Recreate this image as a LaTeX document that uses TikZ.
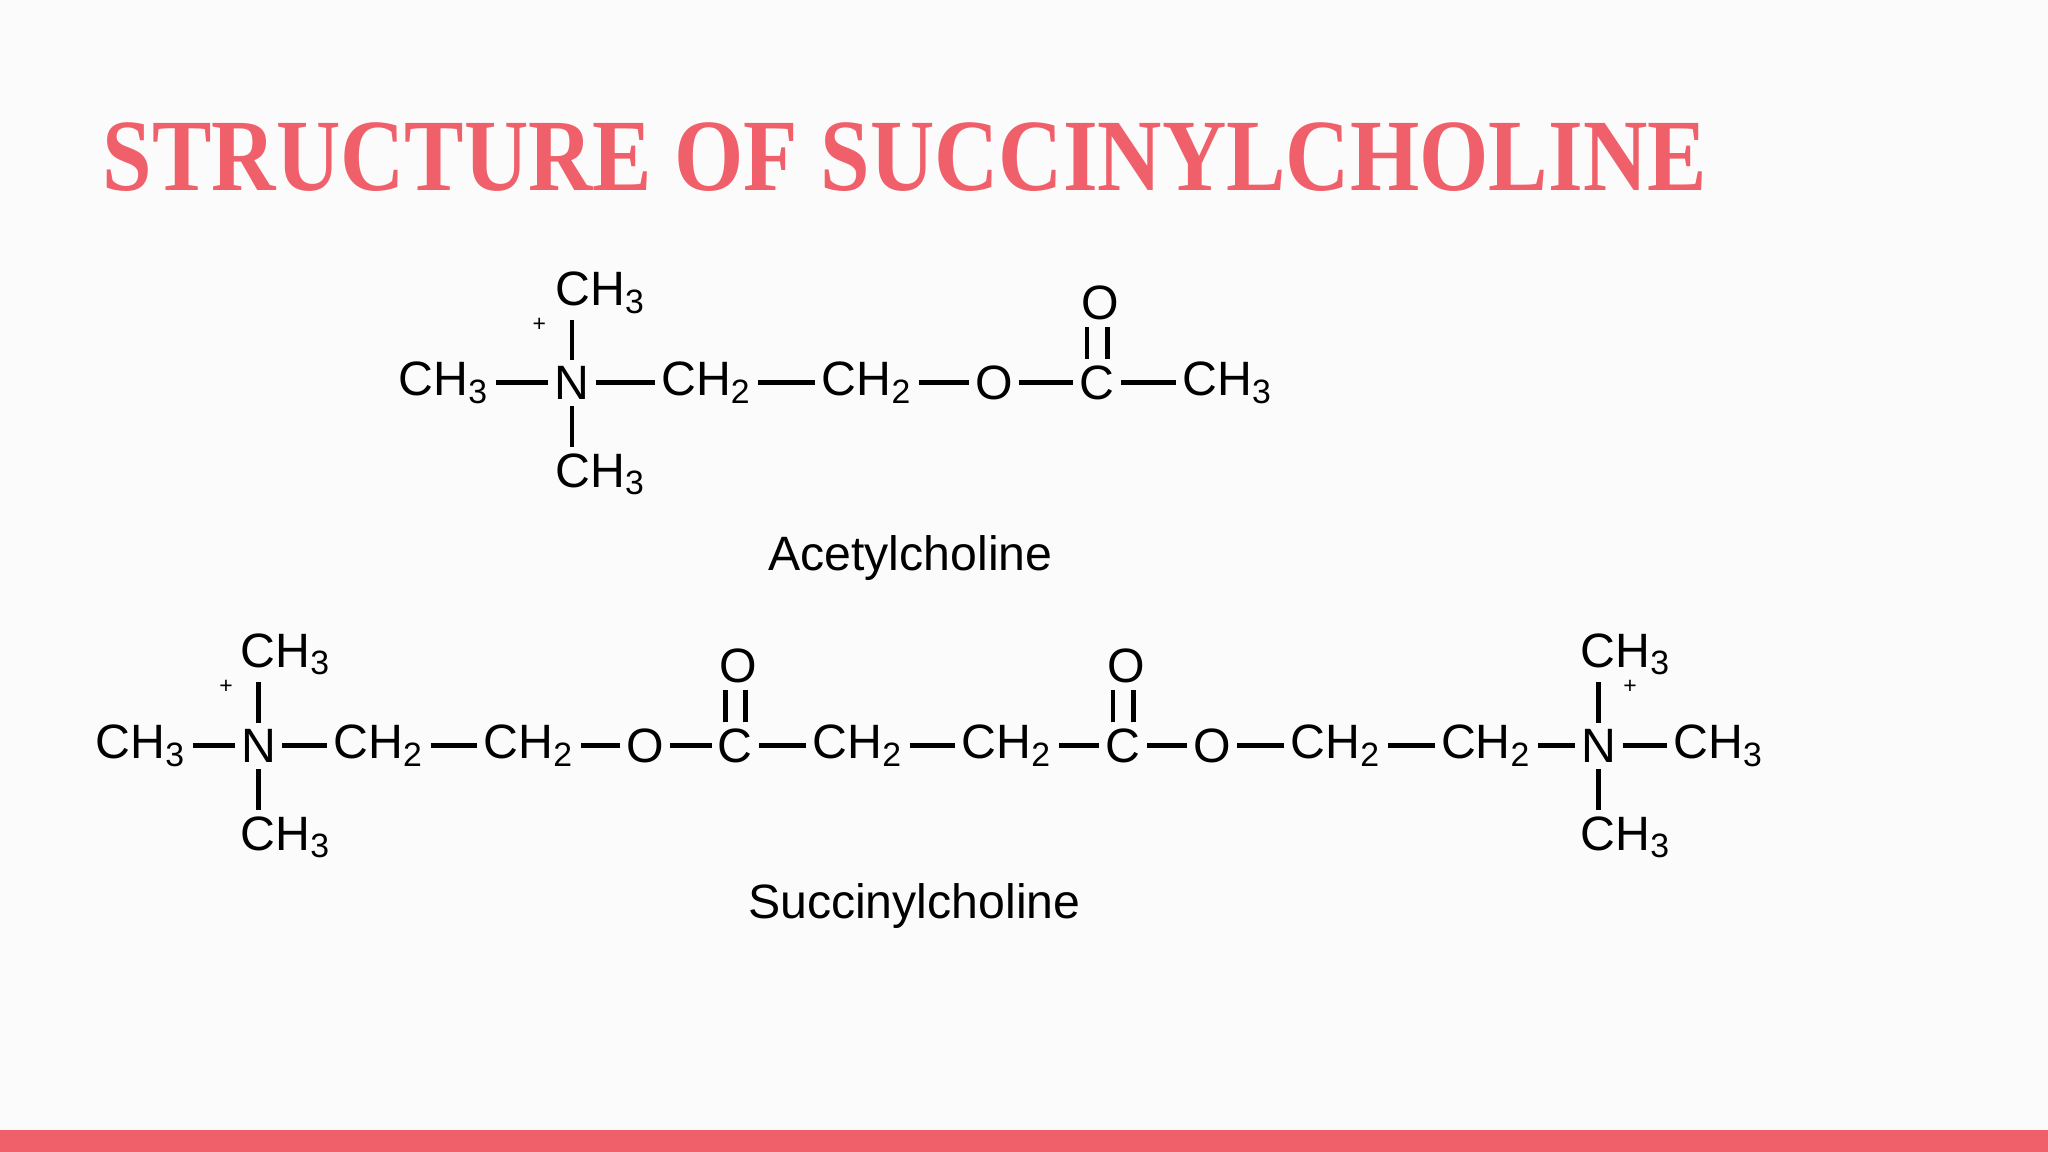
\documentclass[tikz,border=0pt]{standalone}
\usepackage{fontspec}
\setmainfont{Liberation Sans}
\newfontfamily\titlefont{Liberation Serif}
\definecolor{accent}{HTML}{F0606A}
\begin{document}
\begin{tikzpicture}[x=0.01cm,y=-0.01cm,
  atm/.style={font=\fontsize{10.5}{12}\selectfont, inner sep=1.2pt},
  bd/.style={line width=1pt},
  lbl/.style={font=\fontsize{10.5}{12}\selectfont}]
\fill[white!97!gray] (0,0) rectangle (1568,882);
\fill[accent] (0,865) rectangle (1568,882);
\node[anchor=west,inner sep=0pt,text=accent,font=\titlefont\bfseries\fontsize{19.4}{22}\selectfont,yscale=1.15] (title) at (78,120) {STRUCTURE OF SUCCINYLCHOLINE};
% Acetylcholine
\def\y{293}
\node[atm] (a1) at (340,\y) {CH\textsubscript{3}};
\node[atm] (a2) at (438,\y) {N};
\node[atm] (a3) at (541,\y) {CH\textsubscript{2}};
\node[atm] (a4) at (664,\y) {CH\textsubscript{2}};
\node[atm] (a5) at (761,\y) {O};
\node[atm] (a6) at (840,\y) {C};
\node[atm] (a7) at (940,\y) {CH\textsubscript{3}};
\node[atm] (at) at (460,224) {CH\textsubscript{3}};
\node[atm] (ab) at (460,363) {CH\textsubscript{3}};
\node[atm] (ao) at (842,232) {O};
\node[font=\tiny] (ap) at (413,249) {+};
\foreach \a/\b in {a1/a2,a2/a3,a3/a4,a4/a5,a5/a6,a6/a7} \draw[bd] (\a.east) -- (\b.west);
\draw[bd] (a2.north) -- (a2.north |- at.south);
\draw[bd] (a2.south) -- (a2.south |- ab.north);
\draw[bd] ([xshift=-2.2pt]a6.north) -- ([xshift=-2.2pt]a6.north |- ao.south);
\draw[bd] ([xshift=2.2pt]a6.north) -- ([xshift=2.2pt]a6.north |- ao.south);
\node[lbl] (acl) at (697,427) {Acetylcholine};
% Succinylcholine
\def\y{571}
\node[atm] (s1) at (108,\y) {CH\textsubscript{3}};
\node[atm] (s2) at (198,\y) {N};
\node[atm] (s3) at (290,\y) {CH\textsubscript{2}};
\node[atm] (s4) at (405,\y) {CH\textsubscript{2}};
\node[atm] (s5) at (494,\y) {O};
\node[atm] (s6) at (563,\y) {C};
\node[atm] (s7) at (657,\y) {CH\textsubscript{2}};
\node[atm] (s8) at (771,\y) {CH\textsubscript{2}};
\node[atm] (s9) at (860,\y) {C};
\node[atm] (s10) at (928,\y) {O};
\node[atm] (s11) at (1023,\y) {CH\textsubscript{2}};
\node[atm] (s12) at (1138,\y) {CH\textsubscript{2}};
\node[atm] (s13) at (1224,\y) {N};
\node[atm] (s14) at (1316,\y) {CH\textsubscript{3}};
\node[atm] (st1) at (219,501) {CH\textsubscript{3}};
\node[atm] (sb1) at (219,641) {CH\textsubscript{3}};
\node[atm] (st2) at (1245,501) {CH\textsubscript{3}};
\node[atm] (sb2) at (1245,641) {CH\textsubscript{3}};
\node[atm] (so1) at (565,510) {O};
\node[atm] (so2) at (862,510) {O};
\node[font=\tiny] (sp1) at (173,526) {+};
\node[font=\tiny] (sp2) at (1248,526) {+};
\foreach \a/\b in {s1/s2,s2/s3,s3/s4,s4/s5,s5/s6,s6/s7,s7/s8,s8/s9,s9/s10,s10/s11,s11/s12,s12/s13,s13/s14} \draw[bd] (\a.east) -- (\b.west);
\foreach \n/\t/\b in {s2/st1/sb1,s13/st2/sb2}{
  \draw[bd] (\n.north) -- (\n.north |- \t.south);
  \draw[bd] (\n.south) -- (\n.south |- \b.north);}
\foreach \c/\o in {s6/so1,s9/so2}{
  \draw[bd] ([xshift=-2.2pt]\c.north) -- ([xshift=-2.2pt]\c.north |- \o.south);
  \draw[bd] ([xshift=2.2pt]\c.north) -- ([xshift=2.2pt]\c.north |- \o.south);}
\node[lbl] (scl) at (700,694) {Succinylcholine};
\end{tikzpicture}
\end{document}
